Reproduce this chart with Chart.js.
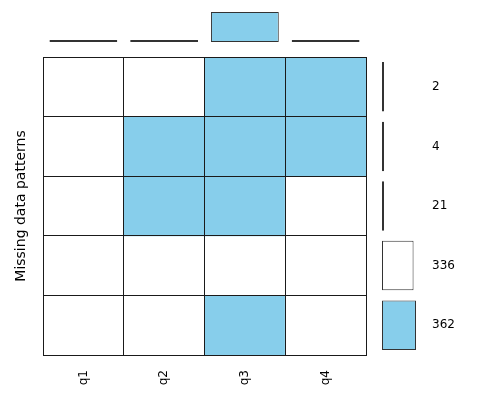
<!DOCTYPE html>
<html>
<head>
<meta charset="utf-8">
<script src="https://cdn.jsdelivr.net/npm/chart.js@4/dist/chart.umd.min.js"></script>
<style>
  html, body { margin: 0; padding: 0; background: #fff; }
  #wrap { position: relative; width: 499px; height: 398px; }
  #wrap canvas { position: absolute; left: 0; top: 0; }
</style>
</head>
<body>
<div id="wrap">
  <canvas id="grid" width="499" height="398"></canvas>
  <canvas id="top" width="499" height="398"></canvas>
  <canvas id="side" width="499" height="398"></canvas>
</div>
<script>
// ---- data ----
const variables = ['q1', 'q2', 'q3', 'q4'];
const patternCounts = [2, 4, 21, 336, 362];
// 1 = shaded (blue) cell, 0 = white cell; one row per pattern, top to bottom
const pattern2   = [0, 0, 1, 1];
const pattern4   = [0, 1, 1, 1];
const pattern21  = [0, 1, 1, 0];
const pattern336 = [0, 0, 0, 0];
const pattern362 = [0, 0, 1, 0];
const patternRows = [pattern2, pattern4, pattern21, pattern336, pattern362];
const missingPerVariable = [0, 25, 389, 6];
const sideColors = [0, 0, 1, 0, 1];

// ---- style ----
const BLUE = '#87CEEB';
const WHITE = '#ffffff';
const EDGE = '#333333';
const LINE = '#1a1a1a';
const FONT = "'DejaVu Sans', sans-serif";
Chart.defaults.font.family = FONT;
Chart.defaults.color = '#000';
Chart.defaults.animation = false;
Chart.defaults.responsive = false;
Chart.defaults.plugins.legend.display = false;
Chart.defaults.plugins.tooltip.enabled = false;

const colorOf = v => v ? BLUE : WHITE;

// ---- main grid ----
new Chart(document.getElementById('grid'), {
  type: 'bar',
  data: {
    labels: variables,
    datasets: patternRows.map((row, i) => ({
      label: String(patternCounts[i]),
      data: row.map(() => 1),
      backgroundColor: row.map(colorOf),
      borderWidth: 0,
      barPercentage: 1,
      categoryPercentage: 1
    }))
  },
  options: {
    layout: { padding: { left: 0, right: 133, top: 57, bottom: 0 } },
    scales: {
      x: {
        stacked: true,
        grid: { display: true, offset: true, color: LINE, lineWidth: 1, drawTicks: false, z: 1 },
        border: { display: true, color: LINE, z: 1 },
        ticks: { autoSkip: false, minRotation: 90, maxRotation: 90, padding: 15,
                 font: { size: 12, family: FONT }, color: '#000' },
        afterFit: s => { s.height = 43; }
      },
      y: {
        stacked: true,
        reverse: true,
        min: 0, max: 5,
        grid: { display: true, color: LINE, lineWidth: 1, drawTicks: false, z: 1 },
        border: { display: true, color: LINE, z: 1 },
        ticks: { display: false, stepSize: 1 },
        title: { display: true, text: 'Missing data patterns',
                 font: { size: 14, family: FONT }, color: '#000', padding: { top: 13, bottom: 0 } },
        afterFit: s => { s.width = 43; }
      }
    }
  }
});

// ---- top bars (per-variable totals) ----
new Chart(document.getElementById('top'), {
  type: 'bar',
  data: {
    labels: variables,
    datasets: [{
      data: missingPerVariable,
      backgroundColor: BLUE,
      borderColor: EDGE,
      borderWidth: 1,
      borderSkipped: false,
      minBarLength: 2,
      barPercentage: 0.84,
      categoryPercentage: 1
    }]
  },
  options: {
    layout: { padding: { left: 43, right: 133, top: 12, bottom: 356 } },
    scales: {
      x: { display: false },
      y: { display: false, min: 0, max: 389 }
    }
  }
});

// ---- side bars (pattern counts) ----
new Chart(document.getElementById('side'), {
  type: 'bar',
  data: {
    labels: patternCounts.map(String),
    datasets: [{
      data: patternCounts,
      backgroundColor: sideColors.map(colorOf),
      borderColor: EDGE,
      borderWidth: 1,
      borderSkipped: false,
      minBarLength: 2,
      barPercentage: 0.83,
      categoryPercentage: 1
    }]
  },
  options: {
    indexAxis: 'y',
    layout: { padding: { left: 382, right: 0, top: 57, bottom: 43 } },
    scales: {
      x: { display: false, min: 0, max: 362 },
      y: {
        position: 'right',
        grid: { display: false, drawTicks: false },
        border: { display: false },
        ticks: { padding: 16, font: { size: 12, family: FONT }, color: '#000' },
        afterFit: s => { s.width = 83; }
      }
    }
  }
});
</script>
</body>
</html>
